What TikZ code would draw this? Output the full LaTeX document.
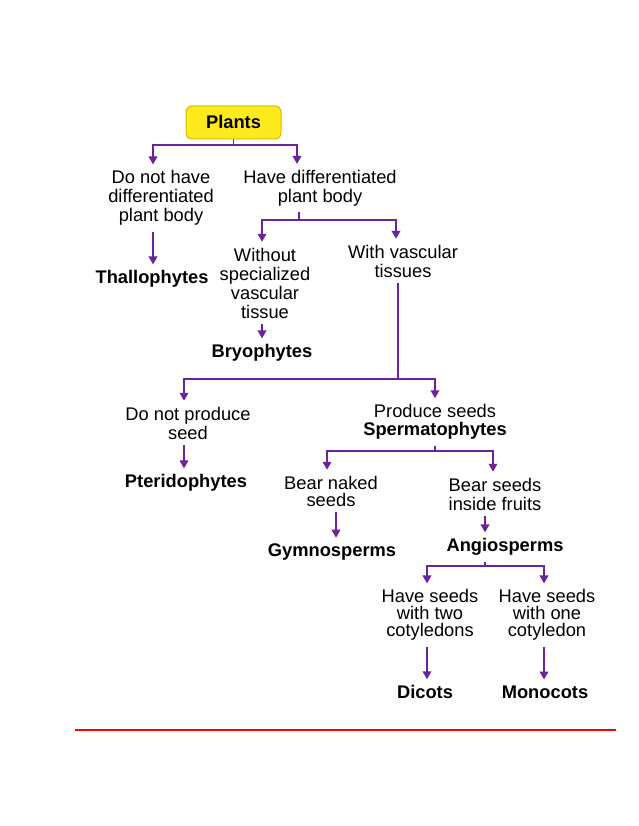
\documentclass[tikz,border=0pt]{standalone}
\usepackage{fontspec}
\setmainfont{Liberation Sans}
\usetikzlibrary{arrows.meta,calc}
\definecolor{pur}{RGB}{107,36,158}
\definecolor{ybox}{RGB}{255,234,30}
\definecolor{yedge}{RGB}{214,186,0}
\tikzset{
  txt/.style={font=\fontsize{18.3}{19}\selectfont, align=center, inner sep=2pt, outer sep=4pt},
  tight/.style={font=\fontsize{18.3}{17}\selectfont, align=center, inner sep=2pt, outer sep=4pt},
  grp/.style={font=\bfseries\fontsize{18.3}{19}\selectfont, inner sep=2pt, outer sep=4pt},
  ln/.style={draw=pur, line width=1.9pt},
  arr/.style={ln, -{Triangle[width=8.5pt,length=8pt]}},
  rootbox/.style={draw=yedge, fill=ybox, line width=1pt, rounded corners=6pt,
    minimum width=95pt, minimum height=33pt, text depth=1pt, font=\bfseries\fontsize{18.3}{19}\selectfont}
}
\begin{document}
\begin{tikzpicture}[x=1pt,y=-1pt]
\useasboundingbox[fill=white] (0,0) rectangle (638,826);
% nodes
\node[rootbox] (plants) at (233.5,122.5) {Plants};
\node[txt] (dnh) at (161,198) {Do not have\\differentiated\\plant body};
\node[txt] (hd) at (320,188) {Have differentiated\\plant body};
\node[grp] (thal) at (152,279) {Thallophytes};
\node[txt] (wo) at (265,283) {Without\\specialized\\vascular\\tissue};
\node[txt] (wv) at (403,261) {With vascular\\tissues};
\node[grp] (bryo) at (262,353) {Bryophytes};
\node[txt] (dnp) at (188,423) {Do not produce\\seed};
\node[txt] (ps) at (435,411) {Produce seeds};
\node[grp] (sperm) at (435,431) {Spermatophytes};
\node[grp] (pter) at (186,483) {Pteridophytes};
\node[tight] (bn) at (331,491) {Bear naked\\seeds};
\node[txt] (bs) at (495,494) {Bear seeds\\inside fruits};
\node[grp] (gym) at (332,552) {Gymnosperms};
\node[grp] (ang) at (505,547) {Angiosperms};
\node[tight] (two) at (430,615) {Have seeds\\with two\\cotyledons};
\node[tight] (one) at (547,615) {Have seeds\\with one\\cotyledon};
\node[grp] (dic) at (425,692) {Dicots};
\node[grp] (mono) at (545,692) {Monocots};
% junctions
\coordinate (j1) at (plants.south |- 0,145);
\coordinate (j2s) at ([xshift=-21pt]hd.south);
\coordinate (j2) at (j2s |- 0,220);
\coordinate (j3s) at ([xshift=-5pt]wv.south);
\coordinate (j3) at (j3s |- 0,379);
\coordinate (j4) at (sperm.south |- 0,451);
\coordinate (j5s) at ([xshift=-20pt]ang.south);
\coordinate (j5) at (j5s |- 0,566);
% connectors
\draw[ln] (plants.south) -- (j1);
\draw[arr] (j1) -| ([xshift=-8pt]dnh.north);
\draw[arr] (j1) -| ([xshift=-23pt]hd.north);
\draw[arr] ([xshift=-8pt]dnh.south) -- ([xshift=-8pt]dnh.south |- thal.north);
\draw[ln] (j2s) -- (j2);
\draw[arr] (j2) -| ([xshift=-3pt]wo.north);
\draw[arr] (j2) -| ([xshift=-7pt]wv.north);
\draw[arr] ([xshift=-3pt]wo.south) -- ([xshift=-3pt]wo.south |- bryo.north);
\draw[ln] (j3s) -- (j3);
\draw[arr] (j3) -| ([xshift=-4pt]dnp.north);
\draw[arr] (j3) -| (ps.north);
\draw[arr] ([xshift=-4pt]dnp.south) -- ([xshift=-4pt]dnp.south |- pter.north);
\draw[ln] (sperm.south) -- (j4);
\draw[arr] (j4) -| ([xshift=-4pt]bn.north);
\draw[arr] (j4) -| ([xshift=-2pt]bs.north);
\draw[arr] ([xshift=5pt]bn.south) -- ([xshift=5pt]bn.south |- gym.north);
\draw[arr] ([xshift=-10pt]bs.south) -- ([xshift=-10pt]bs.south |- ang.north);
\draw[ln] (j5s) -- (j5);
\draw[arr] (j5) -| ([xshift=-3pt]two.north);
\draw[arr] (j5) -| ([xshift=-3pt]one.north);
\draw[arr] ([xshift=-3pt]two.south) -- ([xshift=-3pt]two.south |- dic.north);
\draw[arr] ([xshift=-3pt]one.south) -- ([xshift=-3pt]one.south |- mono.north);
% red rule
\draw[red, line width=1.5pt] (75,730) -- (616,730);
\end{tikzpicture}
\end{document}
